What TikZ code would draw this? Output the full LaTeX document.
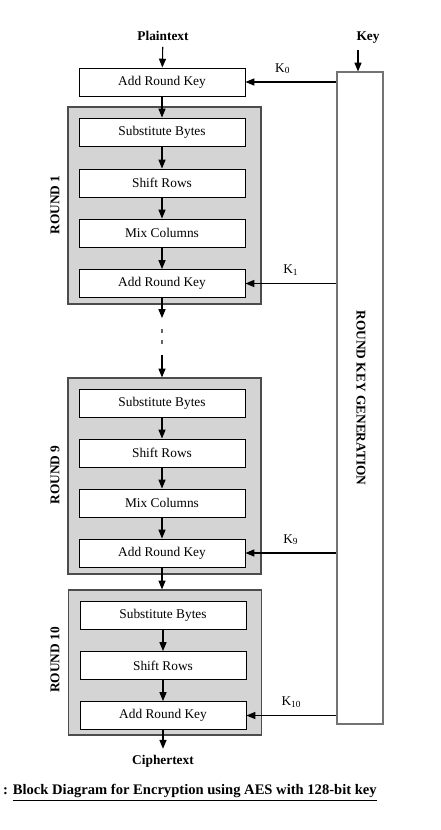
\documentclass[tikz,border=0pt]{standalone}
\usepackage{fontspec}
\setmainfont{Liberation Serif}
\usetikzlibrary{arrows.meta}

\begin{document}
\begin{tikzpicture}
	[x=0.02cm,y=-0.02cm,every node/.style={font=\fontsize{7.6}{9}\selectfont}]
	\tikzset{edge/.style = {-{Triangle[length=5pt,width=4pt]}, line width=0.6pt}}
	\tikzset{stage/.style = {draw, line width=0.55pt, fill=white, minimum width=3.32cm, minimum height=0.56cm, inner sep=0pt}}
	\tikzset{roundbox/.style = {draw=black!70, line width=0.7pt, fill=black!17, minimum width=3.86cm, inner sep=0pt}}
	\useasboundingbox (0,0) rectangle (440,830);

	% gray round frames
	\node[roundbox, minimum height=3.94cm] (r1) at (164.5,205.5) {};
	\node[roundbox, minimum height=3.92cm] (r9) at (164.5,476) {};
	\node[roundbox, minimum height=2.9cm] (r10) at (165,662.5) {};
	\node[rotate=90, font=\fontsize{7.6}{9}\selectfont\bfseries] at (55,205) {ROUND 1};
	\node[rotate=90, font=\fontsize{7.6}{9}\selectfont\bfseries] at (55,475) {ROUND 9};
	\node[rotate=90, font=\fontsize{7.6}{9}\selectfont\bfseries] at (55,660) {ROUND 10};

	% key generation
	\node[draw=black!55, line width=0.7pt, minimum width=0.92cm, minimum height=13.04cm, inner sep=0pt] (kg) at (360,398) {};
	\node[rotate=-90, font=\fontsize{7.6}{9}\selectfont\bfseries] at (361,398) {ROUND KEY GENERATION};

	\node[font=\fontsize{7.6}{9}\selectfont\bfseries] (pt) at (163,36) {Plaintext};
	\node[font=\fontsize{7.6}{9}\selectfont\bfseries] (key) at (368,38) {Key};
	\node[font=\fontsize{7.6}{9}\selectfont\bfseries] (ct) at (163,761) {Ciphertext};

	\node[stage] (ark0) at (162,82) {Add Round Key};

	\node[stage] (sb1) at (162,132) {Substitute Bytes};
	\node[stage] (sr1) at (162,183) {Shift Rows};
	\node[stage] (mc1) at (162,233) {Mix Columns};
	\node[stage] (ark1) at (162,283.5) {Add Round Key};

	\node[stage] (sb9) at (162,403) {Substitute Bytes};
	\node[stage] (sr9) at (162,453) {Shift Rows};
	\node[stage] (mc9) at (162,503) {Mix Columns};
	\node[stage] (ark9) at (162,553) {Add Round Key};

	\node[stage] (sb10) at (163,615.5) {Substitute Bytes};
	\node[stage] (sr10) at (163,665.5) {Shift Rows};
	\node[stage] (ark10) at (163,715.5) {Add Round Key};

	\coordinate (gap1) at (162,318);
	\coordinate (gap2) at (162,329);
	\coordinate (gap3) at (162,346);
	\coordinate (gap4) at (162,355);

	\foreach \from/\to in {pt/ark0,ark0/sb1,sb1/sr1,sr1/mc1,mc1/ark1,ark1/gap1,sb9/sr9,sr9/mc9,mc9/ark9,sb10/sr10,sr10/ark10,ark10/ct}
	\draw[edge] (\from) -- (\to);
	\draw[line width=0.6pt, black!60, dash pattern=on 2.3pt off 4pt] (gap2) -- (gap3);
	\draw[edge] (gap4) -- (gap4 |- r9.north);
	\draw[edge] (ark9) -- (ark9 |- r10.north);
	\draw[edge] ([xshift=-0.2cm]key.south) -- ([xshift=-0.2cm]key.south |- kg.north);

	% round keys
	\foreach \k/\lab/\p in {ark0/0/0.59,ark1/1/0.5,ark9/9/0.5,ark10/10/0.5}
	\draw[edge] (kg.west |- \k.east) -- node[above=1pt, pos=\p] {K\textsubscript{\lab}} (\k.east);

	\node[anchor=west, font=\fontsize{8.3}{9}\selectfont\bfseries] (cap) at (-3,793) {: \underline{Block Diagram for Encryption using AES with 128-bit key}};
\end{tikzpicture}
\end{document}
